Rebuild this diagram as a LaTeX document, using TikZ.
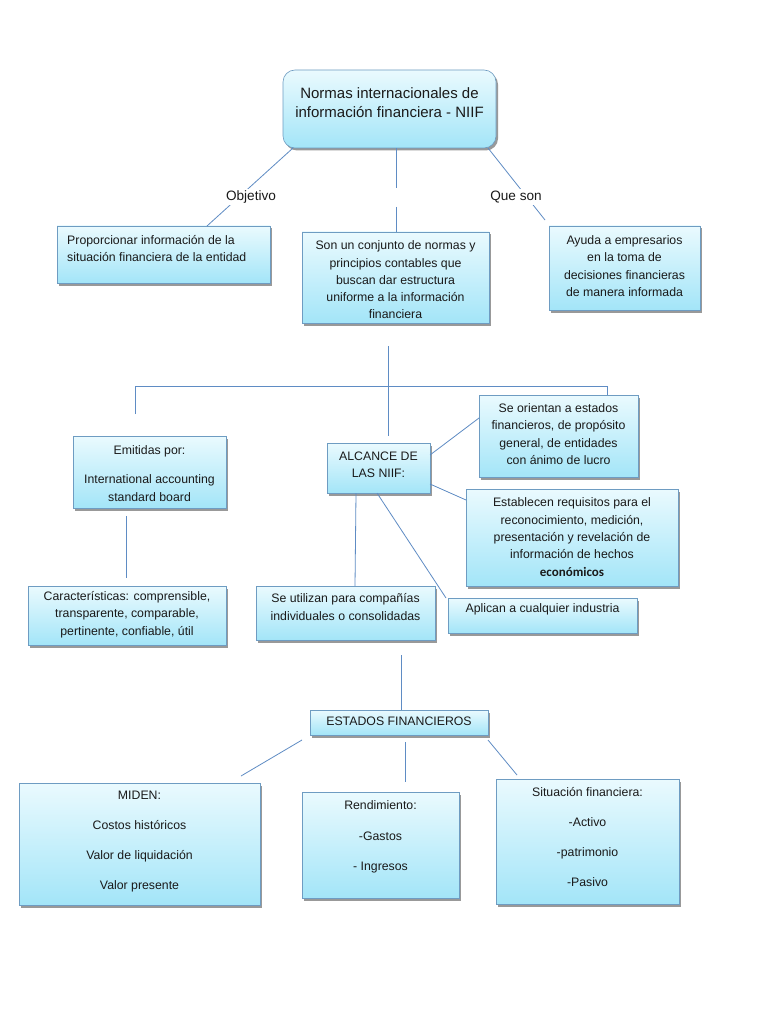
\documentclass[tikz,border=0pt]{standalone}
\usepackage{fontspec}
\setmainfont{Liberation Sans}
\newfontfamily\calib{Carlito}
\usetikzlibrary{shadows}
\definecolor{conncol}{HTML}{5F8CC4}
\definecolor{boxline}{HTML}{6E9CC2}
\definecolor{topc}{HTML}{EAFAFE}
\definecolor{botc}{HTML}{A3E5F8}
\definecolor{txtc}{HTML}{1A1A1A}
\newcommand\fsz{\fontsize{12.3}{17.3}\selectfont}
\newcommand\fbig{\fontsize{15}{18.3}\selectfont}
\newcommand\flbl{\fontsize{13.6}{16}\selectfont}
\tikzset{
  box/.style={draw=boxline, line width=0.6pt, top color=topc, bottom color=botc,
    drop shadow={shadow xshift=2pt, shadow yshift=-2.5pt, opacity=0.4, fill=black},
    inner sep=0pt},
  txt/.style={align=center, font=\fsz, text=txtc, inner sep=0pt},
  lbl/.style={font=\flbl, text=txtc, fill=white, inner sep=2pt},
  conn/.style={draw=conncol, line width=0.8pt}
}
\begin{document}
\begin{tikzpicture}[x=1pt,y=-1pt]
\useasboundingbox[fill=white] (0,0) rectangle (768,1024);
% boxes
\node[box, rounded corners=12pt, minimum width=213pt, minimum height=78pt] (niif) at (389.5,109) {};
\node[box, minimum width=213pt, minimum height=57pt] (prop) at (163.5,254.5) {};
\node[box, minimum width=187pt, minimum height=91pt] (son) at (395.5,277.5) {};
\node[box, minimum width=151pt, minimum height=84pt] (ayuda) at (624.5,268) {};
\node[box, minimum width=153pt, minimum height=72pt] (emit) at (149.5,472) {};
\node[box, minimum width=103pt, minimum height=50pt] (alc) at (378.5,468) {};
\node[box, minimum width=159pt, minimum height=82pt] (orient) at (558.5,436) {};
\node[box, minimum width=212pt, minimum height=97pt] (estab) at (572,537.5) {};
\node[box, minimum width=198pt, minimum height=59pt] (carac) at (127,615.5) {};
\node[box, minimum width=179pt, minimum height=54pt] (util) at (345.5,613) {};
\node[box, minimum width=189pt, minimum height=35pt] (aplic) at (542.5,615.5) {};
\node[box, minimum width=178pt, minimum height=25pt] (est) at (399,722.5) {};
\node[box, minimum width=241pt, minimum height=122pt] (miden) at (139.5,844) {};
\node[box, minimum width=157pt, minimum height=106pt] (rend) at (380.5,845) {};
\node[box, minimum width=183pt, minimum height=125pt] (sit) at (587.5,841.5) {};
% texts
\node[txt, font=\fbig] (niif-t) at (389.5,102.5) {Normas internacionales de\\información financiera - NIIF};
\node[txt, align=left, anchor=west] (prop-t) at (67,248.5) {Proporcionar información de la\\situación financiera de la entidad};
\node[txt] (son-t) at (395.5,280) {Son un conjunto de normas y\\principios contables que\\buscan dar estructura\\uniforme a la información\\financiera};
\node[txt] (ayuda-t) at (624.5,266) {Ayuda a empresarios\\en la toma de\\decisiones financieras\\de manera informada};
\node[txt] (emit-t) at (149.5,473.5) {Emitidas por:\\[11.7pt]International accounting\\standard board};
\node[txt] (alc-t) at (378.5,465) {ALCANCE DE\\LAS NIIF:};
\node[txt] (orient-t) at (558.5,434) {Se orientan a estados\\financieros, de propósito\\general, de entidades\\con ánimo de lucro};
\node[txt] (estab-t) at (572,537) {Establecen requisitos para el\\reconocimiento, medición,\\presentación y revelación de\\información de hechos\\{\calib\bfseries\fontsize{13}{17.3}\selectfont económicos}};
\node[txt] (carac-t) at (127,614.5) {Características: comprensible,\\transparente, comparable,\\pertinente, confiable, útil};
\node[txt] (util-t) at (345.5,607) {Se utilizan para compañías\\individuales o consolidadas};
\node[txt] (aplic-t) at (542.5,609.5) {Aplican a cualquier industria};
\node[txt] (est-t) at (399,721.5) {ESTADOS FINANCIEROS};
\node[txt] (miden-t) at (139.5,841.5) {MIDEN:\\[12.7pt]Costos históricos\\[12.7pt]Valor de liquidación\\[12.7pt]Valor presente};
\node[txt] (rend-t) at (380.5,837) {Rendimiento:\\[13.2pt]-Gastos\\[13.2pt]- Ingresos};
\node[txt] (sit-t) at (587.5,837.5) {Situación financiera:\\[12.7pt]-Activo\\[12.7pt]-patrimonio\\[12.7pt]-Pasivo};
% connector end points
\coordinate (a1) at (293,148); \coordinate (a2) at (207,226);
\coordinate (b1) at (396,148); \coordinate (b2) at (396,188);
\coordinate (b3) at (396,207); \coordinate (b4) at (396,232);
\coordinate (c1) at (488,148); \coordinate (c2) at (545,220);
\coordinate (d1) at (388,346); \coordinate (d2) at (388,436);
\coordinate (h1) at (135,414); \coordinate (h2) at (135,386);
\coordinate (h3) at (607,386); \coordinate (h4) at (607,395);
\coordinate (e1) at (430,455); \coordinate (e2) at (479,418);
\coordinate (f1) at (430,484); \coordinate (f2) at (466,500);
\coordinate (g1) at (356,493); \coordinate (g2) at (355,586);
\coordinate (i1) at (377,493); \coordinate (i2) at (446,598);
\coordinate (j1) at (126,516); \coordinate (j2) at (126,578);
\coordinate (k1) at (401,655); \coordinate (k2) at (401,710);
\coordinate (l1) at (302,740); \coordinate (l2) at (241,776);
\coordinate (m1) at (405,742); \coordinate (m2) at (405,782);
\coordinate (n1) at (488,740); \coordinate (n2) at (517,775);
% connectors
\draw[conn] (a1) -- (a2);
\draw[conn] (b1) -- (b2);
\draw[conn] (b3) -- (b4);
\draw[conn] (c1) -- (c2);
\draw[conn] (d1) -- (d2);
\draw[conn] (h1) -- (h2) -- (h3) -- (h4);
\draw[conn] (e1) -- (e2);
\draw[conn] (f1) -- (f2);
\draw[conn] (g1) -- (g2);
\draw[conn] (i1) -- (i2);
\draw[conn] (j1) -- (j2);
\draw[conn] (k1) -- (k2);
\draw[conn] (l1) -- (l2);
\draw[conn] (m1) -- (m2);
\draw[conn] (n1) -- (n2);
% labels
\node[lbl] (objetivo) at (251,197) {Objetivo};
\node[lbl] (queson) at (516,197) {Que son};
\end{tikzpicture}
\end{document}
